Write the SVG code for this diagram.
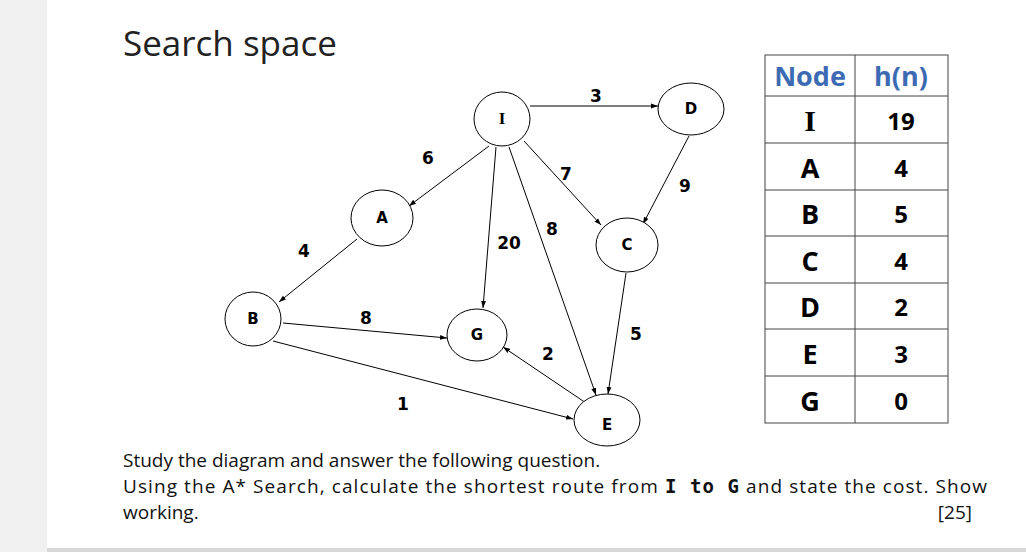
<svg xmlns="http://www.w3.org/2000/svg" width="1026" height="552" viewBox="0 0 1026 552">
<style>
.n ellipse{fill:#fff;stroke:#000;stroke-width:1}
.n text,.lb{font-family:"DejaVu Sans",sans-serif;font-weight:bold;font-size:15px;text-anchor:middle;fill:#000}
.lb{font-size:17px}
.e line{stroke:#000;stroke-width:1;marker-end:url(#ah)}
.tb{font-family:"Open Sans","Liberation Sans",sans-serif;font-weight:bold;font-size:27px;text-anchor:middle}
.tx{font-family:"Open Sans","Liberation Sans",sans-serif;font-size:19px;fill:#111}
</style>
<defs><marker id="ah" viewBox="0 0 10 10" refX="10" refY="5" markerWidth="7" markerHeight="7" orient="auto"><path d="M0,1.5L10,5L0,8.5z" fill="#000"/></marker></defs>
<rect width="1026" height="552" fill="#fff"/>
<rect x="0" y="0" width="47" height="552" fill="#f0f0f0"/>
<rect x="47" y="548" width="979" height="4" fill="#d8d8d8"/>
<text x="123" y="56" font-family="'Open Sans','Liberation Sans',sans-serif" font-size="35" fill="#222">Search space</text>
<g class="e" id="edges">
<line x1="530" y1="106" x2="658" y2="106"/>
<line x1="489" y1="146" x2="409" y2="206"/>
<line x1="496" y1="147" x2="483" y2="308"/>
<line x1="509" y1="147" x2="596" y2="395"/>
<line x1="524" y1="141" x2="601" y2="225"/>
<line x1="689" y1="136" x2="643" y2="224"/>
<line x1="357" y1="239" x2="279" y2="302"/>
<line x1="283" y1="323" x2="447" y2="338"/>
<line x1="273" y1="341" x2="573" y2="419"/>
<line x1="626" y1="273" x2="608" y2="394"/>
<line x1="586" y1="403" x2="503" y2="347"/>
</g>
<g id="labels">
<text class="lb" x="596" y="102">3</text>
<text class="lb" x="428" y="164">6</text>
<text class="lb" x="566" y="180">7</text>
<text class="lb" x="685" y="192">9</text>
<text class="lb" x="304" y="257">4</text>
<text class="lb" x="509" y="249">20</text>
<text class="lb" x="552" y="235">8</text>
<text class="lb" x="366" y="324">8</text>
<text class="lb" x="636" y="340">5</text>
<text class="lb" x="548" y="360">2</text>
<text class="lb" x="403" y="410">1</text>
</g>
<g class="n" id="node-I"><ellipse cx="502" cy="119" rx="28" ry="27"/><text x="502" y="124" style="font-family:'Liberation Serif',serif;font-size:17px">I</text></g>
<g class="n" id="node-D"><ellipse cx="691" cy="109" rx="33" ry="26"/><text x="691" y="114">D</text></g>
<g class="n" id="node-A"><ellipse cx="382" cy="218" rx="31" ry="28"/><text x="382" y="223">A</text></g>
<g class="n" id="node-C"><ellipse cx="627" cy="245" rx="31" ry="27"/><text x="627" y="250">C</text></g>
<g class="n" id="node-B"><ellipse cx="253" cy="319" rx="28" ry="27"/><text x="253" y="324">B</text></g>
<g class="n" id="node-G"><ellipse cx="477" cy="335" rx="30" ry="26"/><text x="477" y="340">G</text></g>
<g class="n" id="node-E"><ellipse cx="607" cy="420" rx="33" ry="26"/><text x="607" y="430">E</text></g>
<g id="table" stroke="#444" stroke-width="1" fill="none">
<rect x="765" y="55" width="183" height="368"/>
<line x1="855" y1="55" x2="855" y2="423"/>
<line x1="765" y1="96" x2="948" y2="96"/>
<line x1="765" y1="143" x2="948" y2="143"/>
<line x1="765" y1="190" x2="948" y2="190"/>
<line x1="765" y1="236" x2="948" y2="236"/>
<line x1="765" y1="283" x2="948" y2="283"/>
<line x1="765" y1="329" x2="948" y2="329"/>
<line x1="765" y1="376" x2="948" y2="376"/>
</g>
<g id="table-text">
<text class="tb" x="810" y="86" fill="#3d6bb3" font-size="25">Node</text>
<text class="tb" x="901" y="86" fill="#3d6bb3" font-size="25" font-weight="normal">h(n)</text>
<g class="tb" fill="#000">
<text x="810" y="131" font-family="'Liberation Serif',serif" font-size="30">I</text><text x="901" y="130" font-size="24">19</text>
<text x="810" y="178">A</text><text x="901" y="177" font-size="24">4</text>
<text x="810" y="224">B</text><text x="901" y="223" font-size="24">5</text>
<text x="810" y="271">C</text><text x="901" y="270" font-size="24">4</text>
<text x="810" y="317">D</text><text x="901" y="316" font-size="24">2</text>
<text x="810" y="364">E</text><text x="901" y="363" font-size="24">3</text>
<text x="810" y="411">G</text><text x="901" y="410" font-size="24">0</text>
</g>
</g>
<text class="tx" x="123" y="467">Study the diagram and answer the following question.</text>
<text class="tx" x="123" y="493" textLength="864" lengthAdjust="spacing">Using the A* Search, calculate the shortest route from <tspan font-weight="bold" font-family="'DejaVu Sans Mono',monospace">I to G</tspan> and state the cost. Show</text>
<text class="tx" x="123" y="519">working.</text>
<text class="tx" x="972" y="519" text-anchor="end">[25]</text>
</svg>
